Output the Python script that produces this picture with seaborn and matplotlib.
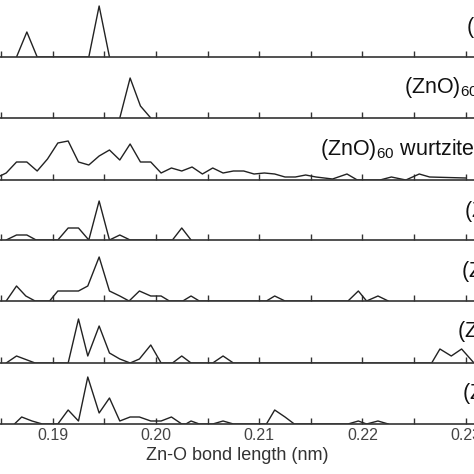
import matplotlib
matplotlib.use("Agg")
import matplotlib.pyplot as plt
import seaborn as sns
import numpy as np
import pandas as pd

sns.set_style("white")
plt.rcParams['font.family'] = ['Liberation Sans', 'DejaVu Sans']
plt.rcParams['mathtext.fontset'] = 'custom'
plt.rcParams['mathtext.rm'] = 'Liberation Sans'

labels = ["(ZnO)$_{60}$ cage", "(ZnO)$_{60}$ tube", "(ZnO)$_{60}$ wurtzite",
          "(ZnO)$_{60}$ a", "(ZnO)$_{60}$ b", "(ZnO)$_{60}$ c", "(ZnO)$_{60}$ d"]

x1 = [0.1865, 0.1875, 0.1885, 0.1935, 0.1945, 0.1955]
y1 = [0, 25, 0, 0, 51, 0]
x2 = [0.1965, 0.1975, 0.1985, 0.1995]
y2 = [0, 40, 12, 0]
x3 = [0.1849, 0.1855, 0.1865, 0.1875, 0.1885, 0.1895, 0.1905, 0.1915, 0.1925, 0.1935,
      0.1945, 0.1955, 0.1965, 0.1975, 0.1985, 0.1995, 0.2005, 0.2015, 0.2025, 0.2035,
      0.2045, 0.2055, 0.2065, 0.2075, 0.2085, 0.2095, 0.2105, 0.2115, 0.2125, 0.2135,
      0.2145, 0.2155, 0.2171, 0.2185, 0.2195, 0.2217, 0.2228, 0.2242, 0.2255, 0.2265, 0.2300]
y3 = [4, 7, 18, 18, 9, 21, 37, 39, 18, 15, 24, 30, 20, 36, 18, 18, 7, 12, 9, 13, 6, 12, 7,
      9, 9, 6, 7, 6, 3, 3, 5, 3, 1, 6, 0, 0, 3, 0, 6, 3, 2]
x4 = [0.1855, 0.1865, 0.1875, 0.1884, 0.1905, 0.1915, 0.1925, 0.1935, 0.1945, 0.1955,
      0.1965, 0.1975, 0.2016, 0.2025, 0.2034]
y4 = [0, 5, 5, 0, 0, 12, 12, 0, 39, 0, 5, 0, 0, 12, 0]
x5 = [0.1855, 0.1865, 0.1874, 0.1883, 0.1897, 0.1905, 0.1925, 0.1934, 0.1945, 0.1955,
      0.1965, 0.1974, 0.1984, 0.1995, 0.2005, 0.2013, 0.2026, 0.2034, 0.2042, 0.2107,
      0.2115, 0.2125, 0.2186, 0.2196, 0.2204, 0.2215, 0.2225]
y5 = [0, 15, 5, 0, 0, 10, 10, 15, 44, 10, 5, 0, 10, 5, 5, 0, 0, 5, 0, 0, 5, 0, 0, 10, 0, 5, 0]
x6 = [0.1855, 0.1865, 0.1883, 0.1915, 0.1925, 0.1934, 0.1945, 0.1955, 0.1965, 0.1975,
      0.1984, 0.1995, 0.2005, 0.2016, 0.2025, 0.2034, 0.2055, 0.2065, 0.2075, 0.2267,
      0.2275, 0.2286, 0.2296, 0.2308]
y6 = [0, 7, 0, 0, 44, 7, 37, 10, 4, 0, 4, 18, 0, 0, 7, 0, 0, 7, 0, 0, 14, 7, 14, 0]
x7 = [0.1863, 0.1870, 0.1880, 0.1890, 0.1905, 0.1915, 0.1925, 0.1934, 0.1945, 0.1955,
      0.1965, 0.1975, 0.1984, 0.1995, 0.2005, 0.2015, 0.2025, 0.2029, 0.2034, 0.2042,
      0.2055, 0.2065, 0.2075, 0.2107, 0.2115, 0.2125, 0.2134, 0.2186, 0.2196, 0.2204,
      0.2215, 0.2225]
y7 = [0, 7, 3, 0, 0, 14, 3, 47, 11, 26, 3, 7, 7, 3, 3, 7, 0, 0, 3, 0, 0, 3, 0, 0, 14, 7,
      0, 0, 3, 0, 3, 0]

series = [(x1, y1), (x2, y2), (x3, y3), (x4, y4), (x5, y5), (x6, y6), (x7, y7)]
major_ticks = [0.19, 0.20, 0.21, 0.22, 0.23]
tick_labels = ["0.19", "0.20", "0.21", "0.22", "0.23"]

W = H = 474
fig = plt.figure(figsize=(4.74, 4.74), dpi=100)
baselines = [57, 118, 180, 240, 301, 363, 424]
label_pos = [(466, 27), (404, 88), (320, 149), (464, 212), (461, 272), (457, 332), (462, 393)]
ph = 61
xmin, xmax = 0.1849, 0.2308
for i, ((xs, ys), b) in enumerate(zip(series, baselines)):
    ax = fig.add_axes([0, 1 - b / H, 1, ph / H])
    df = pd.DataFrame({"x": xs, "y": ys})
    sns.lineplot(data=df, x="x", y="y", ax=ax, sort=False, estimator=None,
                 color="#222222", lw=1.0)
    ax.set_xlim(xmin, xmax)
    ax.set_ylim(0, ph)
    ax.patch.set_alpha(0)
    for s in ["top", "left", "right"]:
        ax.spines[s].set_visible(False)
    ax.spines["bottom"].set_color("#333333")
    ax.spines["bottom"].set_linewidth(1.2)
    ax.set_yticks([])
    ax.set_ylabel("")
    ax.set_xticks(major_ticks)
    ax.set_xticks(np.arange(0.185, 0.2301, 0.01), minor=True)
    ax.tick_params(axis="x", which="both", direction="in", length=4, width=1,
                   color="#333333", bottom=True)
    if i == 6:
        ax.set_xticklabels(tick_labels, fontsize=11.5, color="#444444")
        ax.tick_params(axis="x", pad=3)
        ax.set_xlabel("Zn-O bond length (nm)", fontsize=13, color="#333333", labelpad=3)
    else:
        ax.set_xticklabels([])
        ax.set_xlabel("")
    lx, ly = label_pos[i]
    fig.text(lx / W, 1 - ly / H, labels[i], fontsize=15.5, ha="left", va="center",
             color="#111111")

fig.savefig("out.png", dpi=100)
